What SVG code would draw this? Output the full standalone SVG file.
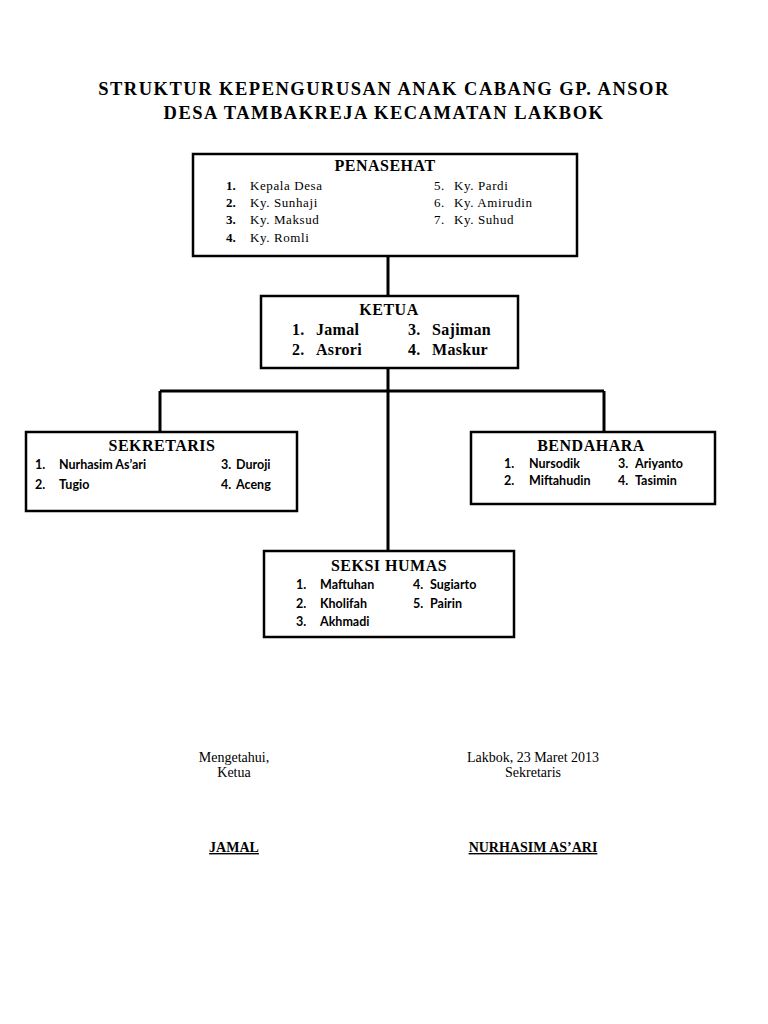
<svg xmlns="http://www.w3.org/2000/svg" width="768" height="1024" viewBox="0 0 768 1024">
<style>
.b{fill:#fff;stroke:#000;stroke-width:2.5}
.h{font-family:"Liberation Serif",serif;font-weight:bold;font-size:16px;text-anchor:middle;letter-spacing:0.5px}
.t{font-family:"Liberation Serif",serif;font-weight:bold;font-size:18.5px;text-anchor:middle;letter-spacing:1.5px}
.s{font-family:"Liberation Serif",serif;font-size:13px;letter-spacing:0.6px}
.sb{font-family:"Liberation Serif",serif;font-size:13px;font-weight:bold}
.k{font-family:"Liberation Serif",serif;font-size:16px;font-weight:bold;letter-spacing:0.3px}
.c{font-family:Lato,"Liberation Sans",sans-serif;font-size:12.5px;font-weight:bold}
.f{font-family:"Liberation Serif",serif;font-size:14px;text-anchor:middle}
.l{stroke:#000;stroke-width:3;fill:none}
</style>
<rect width="768" height="1024" fill="#fff"/>
<text class="t" x="384" y="95">STRUKTUR KEPENGURUSAN ANAK CABANG GP. ANSOR</text>
<text class="t" x="384" y="119">DESA TAMBAKREJA KECAMATAN LAKBOK</text>
<g id="connectors">
<path class="l" d="M388 256V296M388 368V551M160 391H604M160 391V432M604 391V432"/>
</g>
<g id="penasehat">
<rect class="b" x="193" y="154" width="384" height="102"/>
<text class="h" x="385" y="171">PENASEHAT</text>
<text class="sb" x="226" y="190">1.</text><text class="s" x="250" y="190">Kepala Desa</text>
<text class="sb" x="226" y="207">2.</text><text class="s" x="250" y="207">Ky. Sunhaji</text>
<text class="sb" x="226" y="224">3.</text><text class="s" x="250" y="224">Ky. Maksud</text>
<text class="sb" x="226" y="242">4.</text><text class="s" x="250" y="242">Ky. Romli</text>
<text class="s" x="434" y="190">5.</text><text class="s" x="454" y="190">Ky. Pardi</text>
<text class="s" x="434" y="207">6.</text><text class="s" x="454" y="207">Ky. Amirudin</text>
<text class="s" x="434" y="224">7.</text><text class="s" x="454" y="224">Ky. Suhud</text>
</g>
<g id="ketua">
<rect class="b" x="261" y="296" width="257" height="72"/>
<text class="h" x="389" y="315">KETUA</text>
<text class="k" x="292" y="335">1.</text><text class="k" x="316" y="335">Jamal</text>
<text class="k" x="292" y="355">2.</text><text class="k" x="316" y="355">Asrori</text>
<text class="k" x="408" y="335">3.</text><text class="k" x="432" y="335">Sajiman</text>
<text class="k" x="408" y="355">4.</text><text class="k" x="432" y="355">Maskur</text>
</g>
<g id="sekretaris">
<rect class="b" x="26" y="432" width="271" height="79"/>
<text class="h" x="162" y="451">SEKRETARIS</text>
<text class="c" x="35" y="469">1.</text><text class="c" x="59" y="469">Nurhasim As’ari</text>
<text class="c" x="35" y="489">2.</text><text class="c" x="59" y="489">Tugio</text>
<text class="c" x="221" y="469">3.</text><text class="c" x="236" y="469">Duroji</text>
<text class="c" x="221" y="489">4.</text><text class="c" x="236" y="489">Aceng</text>
</g>
<g id="bendahara">
<rect class="b" x="471" y="432" width="244" height="72"/>
<text class="h" x="591" y="451">BENDAHARA</text>
<text class="c" x="504" y="468" font-size="11.5">1.</text><text class="c" x="529" y="468" font-size="11.5">Nursodik</text>
<text class="c" x="504" y="485" font-size="11.5">2.</text><text class="c" x="529" y="485" font-size="11.5">Miftahudin</text>
<text class="c" x="618" y="468" font-size="11.5">3.</text><text class="c" x="635" y="468" font-size="11.5">Ariyanto</text>
<text class="c" x="618" y="485" font-size="11.5">4.</text><text class="c" x="635" y="485" font-size="11.5">Tasimin</text>
</g>
<g id="humas">
<rect class="b" x="264" y="551" width="250" height="86"/>
<text class="h" x="389" y="571">SEKSI HUMAS</text>
<text class="c" x="296" y="589">1.</text><text class="c" x="320" y="589">Maftuhan</text>
<text class="c" x="296" y="608">2.</text><text class="c" x="320" y="608">Kholifah</text>
<text class="c" x="296" y="626">3.</text><text class="c" x="320" y="626">Akhmadi</text>
<text class="c" x="413" y="589">4.</text><text class="c" x="430" y="589">Sugiarto</text>
<text class="c" x="413" y="608">5.</text><text class="c" x="430" y="608">Pairin</text>
</g>
<text class="f" x="234" y="762">Mengetahui,</text>
<text class="f" x="234" y="777">Ketua</text>
<text class="f" x="533" y="762">Lakbok, 23 Maret 2013</text>
<text class="f" x="533" y="777">Sekretaris</text>
<text class="f" x="234" y="852" font-weight="bold" text-decoration="underline">JAMAL</text>
<text class="f" x="533" y="852" font-weight="bold" text-decoration="underline">NURHASIM AS’ARI</text>
</svg>
